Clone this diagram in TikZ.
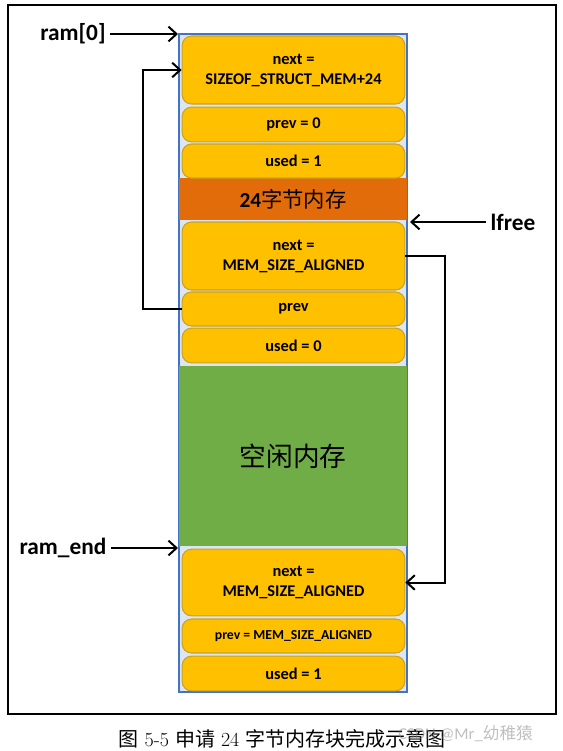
\documentclass[tikz,border=0pt]{standalone}
\usepackage{fontspec}
\setsansfont{Carlito}
\newfontfamily\cjk{Noto Sans CJK SC}
\usetikzlibrary{arrows.meta}
\definecolor{ybox}{HTML}{FFC000}
\definecolor{ybord}{HTML}{C9A227}
\definecolor{obox}{HTML}{E36C0A}
\definecolor{gbox}{HTML}{70AD47}
\definecolor{colbord}{HTML}{4472C4}
\definecolor{colfill}{HTML}{DCE6F2}
\tikzset{
  box/.style={draw=ybord, fill=ybox, rounded corners=7pt, line width=0.8pt,
    minimum width=167pt, align=center, inner sep=1pt,
    font=\sffamily\bfseries\fontsize{12.3}{15}\selectfont},
  block/.style={draw=none, minimum width=171pt, inner sep=0pt, align=center},
  lbl/.style={font=\sffamily\bfseries\fontsize{17.5}{20}\selectfont},
  arr/.style={line width=1.5pt, -{Straight Barb[length=6pt,width=11pt,line width=1.5pt]}},
  link/.style={line width=1.5pt}
}
\begin{document}
\begin{tikzpicture}[x=0.75pt,y=-0.75pt]
\useasboundingbox (0,0) rectangle (563,751);
\draw[line width=1.2pt] (8,5) rectangle (556,714);
\draw[colbord, fill=colfill, line width=0.8pt] (179,34) rectangle (407,692);
\node[block, fill=obox, minimum height=31.5pt, font=\fontsize{16}{18}\selectfont] (o) at (293,199) {{\sffamily\bfseries 24}{\cjk 字节内存}};
\node[block, fill=gbox, minimum height=135pt, font=\cjk\fontsize{20}{22}\selectfont] (g) at (293,456) {空闲内存};
\node[box, minimum height=51pt] (n1) at (293.5,70) {next =\\SIZEOF\_STRUCT\_MEM+24};
\node[box, minimum height=26pt] (p1) at (293.5,124.5) {prev = 0};
\node[box, minimum height=25.5pt] (u1) at (293.5,161) {used = 1};
\node[box, minimum height=51pt] (n2) at (293.5,256) {next =\\MEM\_SIZE\_ALIGNED};
\node[box, minimum height=25.5pt] (p2) at (293.5,309) {prev};
\node[box, minimum height=26pt] (u2) at (293.5,345.5) {used = 0};
\node[box, minimum height=50pt] (n3) at (293.5,582.5) {next =\\MEM\_SIZE\_ALIGNED};
\node[box, minimum height=25.5pt, font=\sffamily\bfseries\fontsize{10.3}{12}\selectfont] (p3) at (293.5,636) {prev = MEM\_SIZE\_ALIGNED};
\node[box, minimum height=26pt] (u3) at (293.5,673.5) {used = 1};
% labels
\node[lbl] (ram0) at (73,34) {ram[0]};
\node[lbl] (ramend) at (63,548) {ram\_end};
\node[lbl] (lfree) at (513,222) {lfree};
\coordinate (ram0t) at (178,34);
\coordinate (ramendt) at (178,548);
\coordinate (lfreet) at (410,222);
\coordinate (loopL) at (143,0);
\coordinate (loopR) at (445,0);
\draw[arr] (ram0.east) -- (ram0t);
\draw[arr] (ramend.east) -- (ramendt);
\draw[arr] (lfree.west) -- (lfreet);
\draw[arr] (p2.west) -- (p2.west -| loopL) -- (n1.west -| loopL) -- (n1.west);
\draw[arr] (n2.east) -- (n2.east -| loopR) -- (n3.east -| loopR) -- (n3.east);
% caption
\node[font=\fontsize{15}{17}\selectfont] (cap) at (282,739) {{\cjk 图} 5-5 {\cjk 申请} 24 {\cjk 字节内存块完成示意图}};
\node[text=gray, opacity=0.5, font=\fontsize{12.5}{14}\selectfont\sffamily, anchor=west, inner sep=0pt] (wm) at (398,734) {CSDN @Mr\_{\cjk 幼稚猿}};
\end{tikzpicture}
\end{document}
